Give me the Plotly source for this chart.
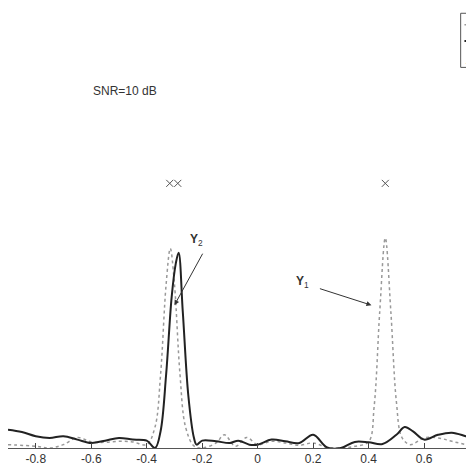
import plotly.graph_objs as go

# beam pattern values
x_solid = [-0.9, -0.85, -0.8, -0.75, -0.7, -0.65, -0.6, -0.55, -0.5, -0.45, -0.4, -0.37, -0.35, -0.33,
           -0.31, -0.295, -0.285, -0.27, -0.25, -0.23, -0.22, -0.2, -0.15, -0.1, -0.07, -0.03, 0.0,
           0.05, 0.1, 0.15, 0.2, 0.25, 0.3, 0.35, 0.4, 0.45, 0.5, 0.53, 0.56, 0.6, 0.65, 0.7, 0.75, 0.8]
y_solid = [0.087, 0.076, 0.056, 0.048, 0.056, 0.040, 0.024, 0.035, 0.048, 0.040, 0.035, 0.0, 0.08, 0.35,
           0.72, 0.88, 0.93, 0.65, 0.25, 0.05, 0.016, 0.035, 0.032, 0.024, 0.035, 0.016, 0.016,
           0.040, 0.032, 0.024, 0.063, 0.003, 0.0, 0.029, 0.027, 0.019, 0.063, 0.10, 0.079, 0.040, 0.063, 0.073, 0.056, 0.035]

x_dot = [-0.9, -0.8, -0.75, -0.7, -0.65, -0.6, -0.55, -0.5, -0.45, -0.4, -0.37, -0.35, -0.33, -0.315,
         -0.3, -0.28, -0.26, -0.23, -0.2, -0.15, -0.12, -0.08, -0.04, 0.0, 0.05, 0.1, 0.15, 0.2, 0.25,
         0.3, 0.35, 0.4, 0.42, 0.44, 0.46, 0.48, 0.5, 0.52, 0.55, 0.6, 0.65, 0.7, 0.8]
y_dot = [0.016, 0.008, 0.0, 0.016, 0.05, 0.029, 0.027, 0.032, 0.029, 0.016, 0.1, 0.35, 0.78, 0.95,
         0.78, 0.35, 0.1, 0.01, 0.0, 0.024, 0.063, 0.008, 0.05, 0.016, 0.032, 0.024, 0.013, 0.024, 0.003,
         0.0, 0.008, 0.03, 0.2, 0.65, 1.0, 0.65, 0.22, 0.05, 0.016, 0.048, 0.048, 0.032, 0.0]

x_true = [-0.317, -0.288, 0.46]
y_true = [1.26, 1.26, 1.26]

ticks = [-0.8, -0.6, -0.4, -0.2, 0, 0.2, 0.4, 0.6, 0.8]
tick_text = ['-0.8', '-0.6', '-0.4', '-0.2', '0', '0.2', '0.4', '0.6', '0.8']

grey = '#333333'
fnt = dict(family='Liberation Sans, Arial', size=12, color=grey)

fig = go.Figure()
fig.add_trace(go.Scatter(x=x_dot, y=y_dot, mode='lines', line=dict(color='#999999', width=1.5, dash='dot', shape='spline')))
fig.add_trace(go.Scatter(x=x_solid, y=y_solid, mode='lines', line=dict(color='#222222', width=2, shape='spline')))
fig.add_trace(go.Scatter(x=x_true, y=y_true, mode='markers',
                         marker=dict(symbol='x-thin', size=7, line=dict(color='#555555', width=1))))

fig.add_annotation(x=-0.6, y=1.70, text='SNR=10 dB', showarrow=False, xanchor='left', font=fnt)
fig.add_annotation(x=-0.3, y=0.68, ax=29, ay=-53, text='', showarrow=True, arrowhead=2,
                   arrowwidth=1, arrowcolor=grey)
fig.add_annotation(x=0.41, y=0.68, ax=-53, ay=-17, text='', showarrow=True, arrowhead=2,
                   arrowwidth=1, arrowcolor=grey)
fig.add_annotation(x=-0.22, y=0.99, text='<b>Y</b><sub>2</sub>', showarrow=False, font=fnt)
fig.add_annotation(x=0.16, y=0.79, text='<b>Y</b><sub>1</sub>', showarrow=False, font=fnt)
fig.add_annotation(xref='paper', yref='paper', x=0.53, y=-0.075, text='<i>v</i> (Y-DOA)',
                   showarrow=False, yanchor='middle', font=fnt)

# legend box, cut off at the right edge
fig.add_shape(type='rect', xref='paper', yref='paper', x0=0.957, x1=1.05, y0=0.865, y1=0.988,
              line=dict(color='#555555', width=1), fillcolor='white')
fig.add_shape(type='line', xref='paper', yref='paper', x0=0.965, x1=1.0, y0=0.962, y1=0.962,
              line=dict(color='#999999', width=1.5, dash='dot'))
fig.add_shape(type='line', xref='paper', yref='paper', x0=0.965, x1=1.0, y0=0.925, y1=0.925,
              line=dict(color='#222222', width=2))
fig.add_annotation(xref='paper', yref='paper', x=0.985, y=0.893, text='×', showarrow=False,
                   font=dict(size=12, color='#777777'))

fig.update_layout(
    width=474, height=474, showlegend=False,
    plot_bgcolor='white', paper_bgcolor='white',
    margin=dict(l=0, r=1, t=0, b=34),
    xaxis=dict(range=[-0.9, 0.805], tickvals=ticks, ticktext=tick_text, ticks='inside', ticklen=5,
               showline=True, linecolor='#555555', showgrid=False, zeroline=False, automargin=False,
               tickfont=fnt),
    yaxis=dict(range=[0, 2.095], visible=False, automargin=False),
)
fig.write_html('out.html')
